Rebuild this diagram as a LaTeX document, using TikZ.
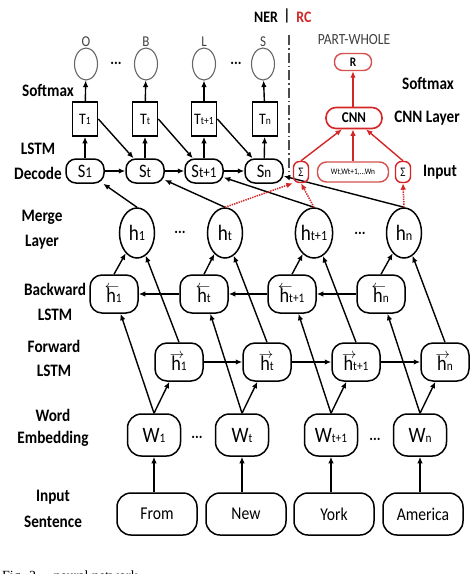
\documentclass[tikz,border=0pt]{standalone}
\usepackage{amsmath}
\usepackage{fontspec}
\setmainfont[FakeStretch=0.87]{Carlito}
\newfontfamily\capfont{Liberation Serif}
\usetikzlibrary{shapes.geometric,arrows.meta}
\definecolor{rcred}{RGB}{212,38,38}
\definecolor{lred}{RGB}{215,80,80}
\newcommand{\mylab}[4]{{\fontsize{#1}{#1}\selectfont #2}{\fontsize{#3}{#3}\selectfont #4}}
\newcommand{\fwdh}{\leavevmode\rlap{\hspace{-1.5pt}\raisebox{12.5pt}{$\scriptstyle\rightarrow$}}h}
\newcommand{\bwdh}{\leavevmode\rlap{\hspace{-1.5pt}\raisebox{12.5pt}{$\scriptstyle\leftarrow$}}h}
\tikzset{
  lab/.style={font=\bfseries\fontsize{17.5}{18}\selectfont, align=center, inner sep=0pt},
  base/.style={draw, line width=1.5pt, inner sep=0pt},
  inbox/.style={base, rounded corners=14pt, minimum width=80pt, minimum height=42pt, font=\fontsize{18}{18}\selectfont},
  wbox/.style={base, rounded corners=14pt, minimum width=53pt, minimum height=42pt},
  hbox/.style={base, rounded corners=12pt, minimum width=48pt, minimum height=38pt},
  mnode/.style={base, ellipse, minimum width=35pt, minimum height=50pt},
  sbox/.style={base, rounded corners=10pt, minimum width=38pt, minimum height=24pt},
  tbox/.style={base, line width=1.7pt, minimum width=25pt, minimum height=34pt},
  onode/.style={draw=black!60, ellipse, line width=1.1pt, minimum width=23pt, minimum height=32pt, inner sep=0pt},
  olab/.style={font=\fontsize{15}{15}\selectfont, text=black!75, inner sep=0pt},
  dots/.style={font=\bfseries\fontsize{16}{16}\selectfont, inner sep=0pt},
  arr/.style={-{Latex[length=6.5pt,width=5.5pt]}, line width=1.4pt},
  rarr/.style={arr, draw=rcred, color=rcred},
  rdot/.style={rarr, densely dotted, line width=1.5pt},
  rbox/.style={draw=rcred, line width=1.4pt, inner sep=0pt},
}
\begin{document}
\begin{tikzpicture}[x=1pt,y=-1pt]
\useasboundingbox (0,0) rectangle (474,574);

% left labels
\node[lab] (l1) at (48,90) {Softmax};
\node[lab] (l2) at (38,149) {LSTM};
\node[lab] (l3) at (38,173) {Decode};
\node[lab] (l4) at (42,217) {Merge};
\node[lab] (l5) at (42,242) {Layer};
\node[lab] (l6) at (55,289) {Backward};
\node[lab] (l7) at (55,315) {LSTM};
\node[lab] (l8) at (54,346) {Forward};
\node[lab] (l9) at (54,371) {LSTM};
\node[lab] (l10) at (53,415) {Word};
\node[lab] (l11) at (53,439) {Embedding};
\node[lab] (l12) at (53,497) {Input};
\node[lab] (l13) at (53,522) {Sentence};

% right labels
\node[lab] (r1) at (428,83) {Softmax};
\node[lab] (r2) at (427,118) {CNN Layer};
\node[lab] (r3) at (440,172) {Input};
\node[lab, font=\bfseries\fontsize{16}{16}\selectfont] (ner) at (266,17) {NER};
\node[lab, font=\bfseries\fontsize{16}{16}\selectfont] (bar) at (287,16) {|};
\node[lab, font=\bfseries\fontsize{16}{16}\selectfont, text=rcred] (rc) at (304,17) {RC};
\node[font=\fontsize{15.5}{15.5}\selectfont, text=black!75, inner sep=0pt] (pw) at (354,40) {PART-WHOLE};

% separator
\coordinate (sepT) at (289,35);
\coordinate (sepB) at (289,178);
\draw[line width=1.3pt, black!70, dash pattern=on 10pt off 3pt on 1.5pt off 3pt] (sepT) -- (sepB);

% input sentence
\foreach \i/\x/\s in {1/157/From,2/246/New,3/334/York,4/423/America}
  \node[inbox] (in\i) at (\x,514) {\s};
% word embedding
\foreach \i/\x/\s in {1/154/1,2/242/t,3/331/t+1,4/420/n}
  \node[wbox] (w\i) at (\x,435) {\mylab{22}{W}{13}{\s}};
% forward
\foreach \i/\x/\s in {1/179/1,2/267/t,3/356/t+1,4/445/n}
  \node[hbox] (f\i) at (\x,362) {\mylab{21}{\fwdh}{13}{\s}};
% backward
\foreach \i/\x/\s in {1/114/1,2/204/t,3/292/t+1,4/381/n}
  \node[hbox] (b\i) at (\x,294) {\mylab{21}{\bwdh}{13}{\s}};
% merge
\foreach \i/\x/\s in {1/137/1,2/225/t,3/314/t+1,4/404/n}
  \node[mnode] (m\i) at (\x,233) {\mylab{22}{h}{14}{\s}};
% decode
\foreach \i/\x/\s in {1/85/1,2/145/t,3/204/t+1,4/264/n}
  \node[sbox] (s\i) at (\x,171) {\mylab{19}{S}{15}{\s}};
% T boxes
\foreach \i/\x/\s in {1/85/1,2/145/t,3/204/t+1,4/265/n}
  \node[tbox] (t\i) at (\x,119) {\mylab{16}{T}{11}{\s}};
% outputs
\foreach \i/\x/\s in {1/86/O,2/146/B,3/204/L,4/263/S} {
  \node[onode] (o\i) at (\x,64) {};
  \node[olab] (ol\i) at (\x,42) {\s};
}

% dots
\node[dots] (d1) at (116,63) {...};
\node[dots] (d2) at (236,63) {...};
\node[dots] (d3) at (180,232) {...};
\node[dots] (d4) at (360,233) {...};
\node[dots] (d5) at (197,437) {...};
\node[dots] (d6) at (375,439) {...};

% connections
\foreach \i in {1,2,3,4} {
  \draw[arr] (w\i.south |- in\i.north) -- (w\i.south);
  \draw[arr] (w\i.north) -- (f\i);
  \draw[arr] (w\i.north) -- (b\i);
  \draw[arr] (f\i.north) -- (m\i);
  \draw[arr] (b\i.north) -- (m\i);
  \draw[arr] (m\i.north) -- (s\i);
  \draw[arr] (s\i) -- (t\i);
  \draw[arr] (t\i) -- (o\i);
}
\draw[arr] (f1) -- (f2);
\draw[arr] (f2) -- (f3);
\draw[arr] (f3) -- (f4);
\draw[arr] (b4) -- (b3);
\draw[arr] (b3) -- (b2);
\draw[arr] (b2) -- (b1);
\draw[arr] (s1) -- (s2);
\draw[arr] (s2) -- (s3);
\draw[arr] (s3) -- (s4);
\draw[arr] (t1.east) -- (s2);
\draw[arr] (t2.east) -- (s3);
\draw[arr] (t3.east) -- (s4);

% RC part
\node[rbox, rounded corners=6pt, minimum width=15pt, minimum height=21pt, font=\fontsize{13}{13}\selectfont] (sig1) at (301,172) {Σ};
\node[rbox, draw=lred, rounded corners=9pt, minimum width=71pt, minimum height=20pt, font=\fontsize{8.5}{9}\selectfont] (wall) at (353,172) {Wt,Wt+1,...Wn};
\node[rbox, rounded corners=6pt, minimum width=15pt, minimum height=21pt, font=\fontsize{13}{13}\selectfont] (sig2) at (403,172) {Σ};
\node[rbox, line width=1.6pt, rounded corners=10pt, minimum width=56pt, minimum height=21pt, font=\bfseries\fontsize{15}{15}\selectfont] (cnn) at (354,118) {CNN};
\node[rbox, draw=lred, rounded corners=8pt, minimum width=37pt, minimum height=17pt, font=\bfseries\fontsize{13}{13}\selectfont] (rr) at (353,62) {R};

\draw[rarr] (sig1.north) -- ([xshift=-12pt]cnn.south);
\draw[rarr] (wall.north) -- (wall.north |- cnn.south);
\draw[rarr] (sig2.north) -- ([xshift=12pt]cnn.south);
\draw[rarr] (cnn.north -| rr.south) -- (rr.south);
\draw[rdot] (m2.north) -- (sig1.south west);
\draw[rdot] (m3.north) -- (sig1.south);
\draw[rdot] (m4.north) -- (sig2.south);

% caption (cut off by the page edge)
\node[anchor=base west, inner sep=0pt, font=\capfont\fontsize{14}{14}\selectfont] (cap) at (2,580) {Fig. 2.\quad neural network};
\end{tikzpicture}
\end{document}
